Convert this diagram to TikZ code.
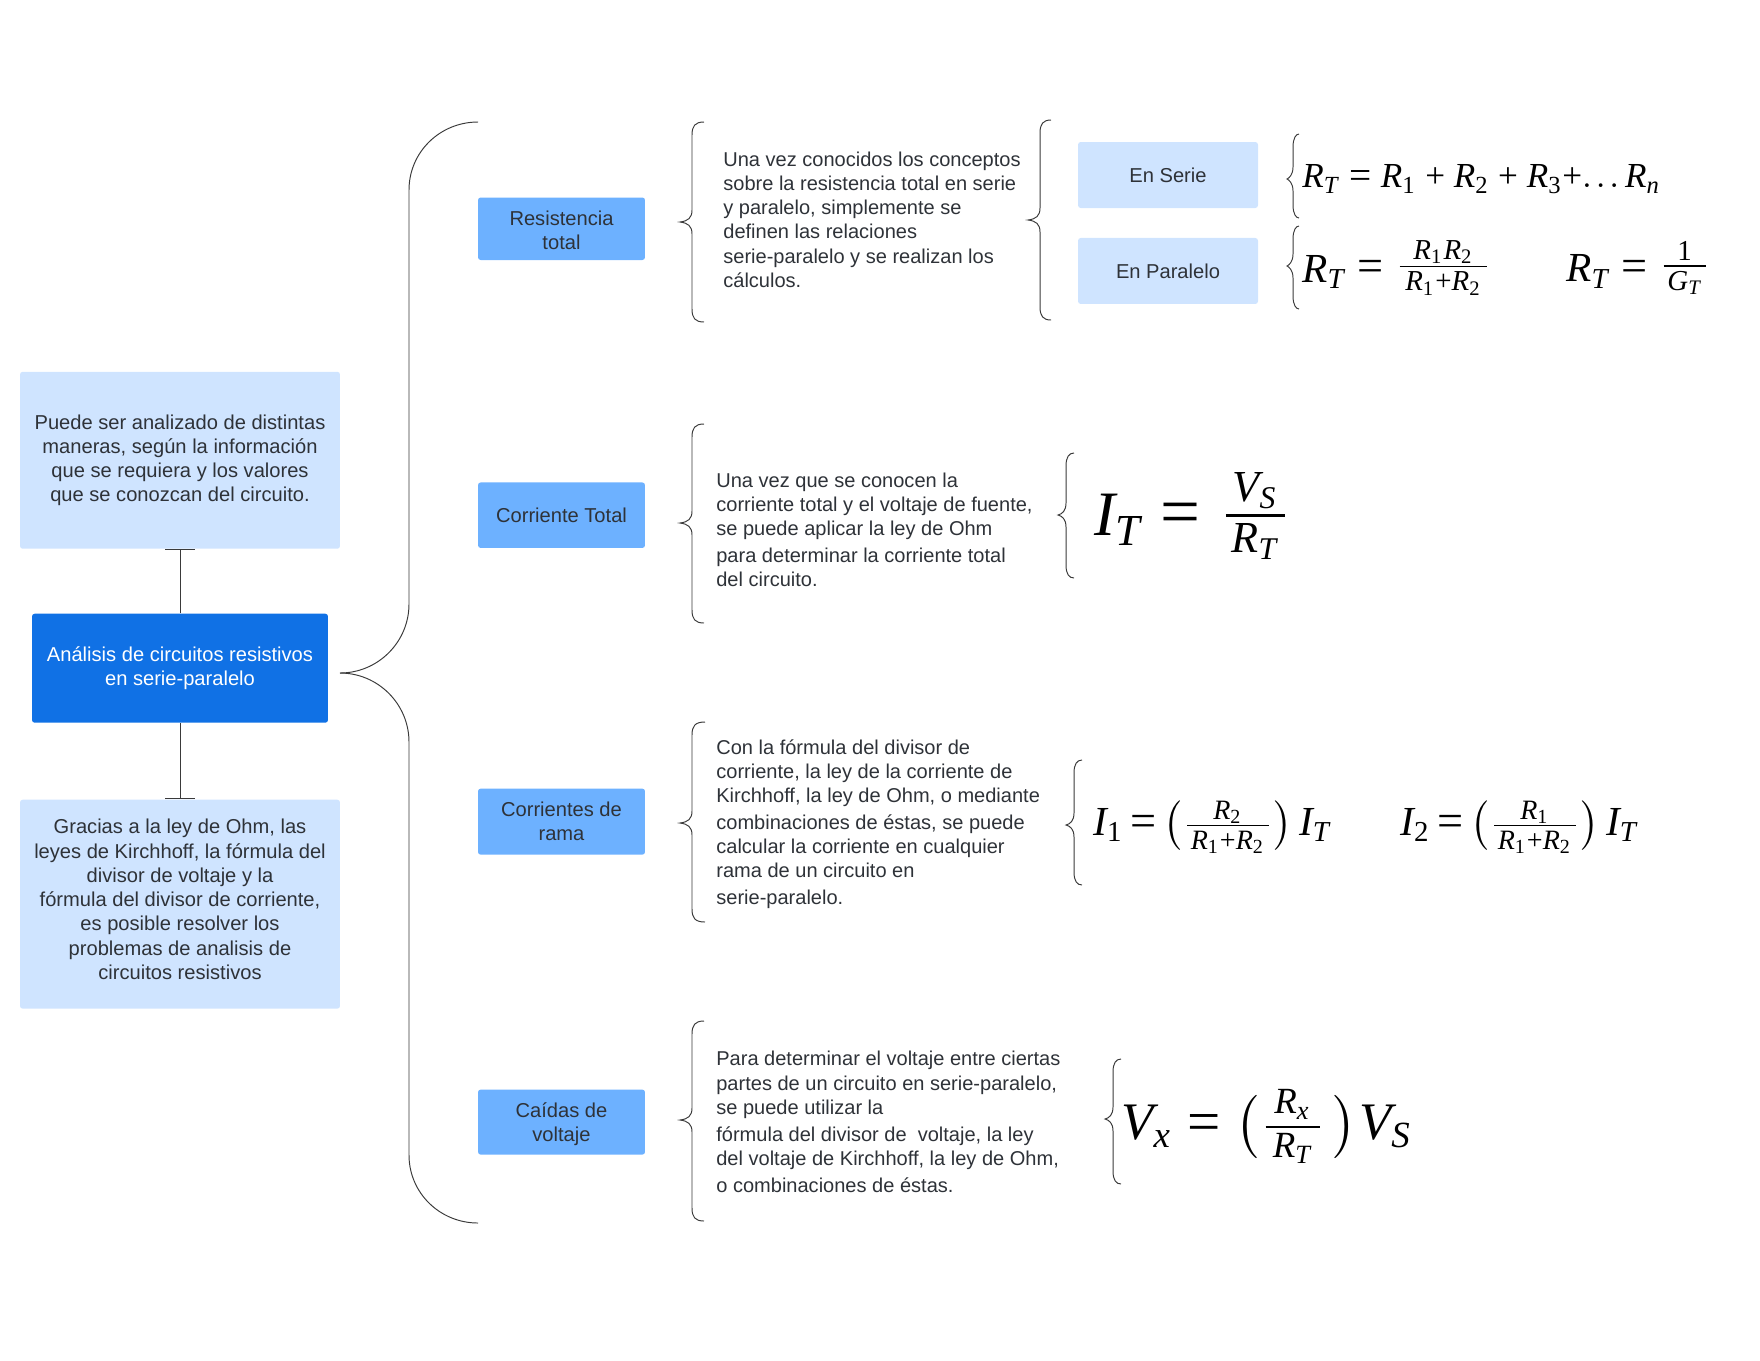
\documentclass[tikz,border=0pt]{standalone}
\usepackage{amsmath,amsfonts,amssymb}
\usepackage{graphicx}
\usepackage{fontspec}
\setmainfont{Liberation Sans}
\setmathrm{Liberation Serif}
\newfontfamily\eqfont{Liberation Serif}
\usepackage{tikz}
\usetikzlibrary{arrows.meta}
\definecolor{rootblue}{HTML}{1071E5}
\definecolor{midblue}{HTML}{6DB1FF}
\definecolor{paleblue}{HTML}{CFE4FF}
\definecolor{inkgrey}{HTML}{2E3238}
\definecolor{linegrey}{HTML}{3A3A3A}
\newcommand{\vr}[2]{\mathit{#1}_{\mathit{#2}}}
\newcommand{\vd}[2]{\mathit{#1}_{\mathrm{#2}}}
\newcommand{\eqsign}[1][0pt]{\mathrel{\raisebox{\dimexpr#1-0.3pt}{\scalebox{1.12}{\eqfont =}}}}
\newcommand{\plussign}{\mathbin{\text{\eqfont +}}}
\newcommand{\plusord}{{\text{\eqfont +}}}
\newcommand{\tightdots}{{\mathrm{.}\mkern2mu\mathrm{.}\mkern2mu\mathrm{.}}}
\tikzstyle{box} = [rounded corners=1.5pt, inner sep=0pt, align=center, text=inkgrey, font=\fontsize{11.45}{13.8}\selectfont]
\tikzstyle{rootbox} = [box, fill=rootblue, text=white, minimum width=5.92cm, minimum height=2.18cm]
\tikzstyle{notebox} = [box, fill=paleblue, minimum width=6.4cm]
\tikzstyle{topicbox} = [box, fill=midblue, minimum width=3.34cm]
\tikzstyle{casebox} = [box, fill=paleblue, minimum width=3.6cm, minimum height=1.32cm]
\tikzstyle{desc} = [anchor=west, inner sep=0pt, align=left, text=inkgrey, font=\fontsize{11.4}{13.8}\selectfont]
\tikzstyle{eq} = [anchor=west, inner sep=0pt]
\tikzstyle{curve} = [draw=linegrey, line width=0.55pt]
\tikzstyle{tbar} = [draw=linegrey, line width=0.55pt, -{Bar[width=17pt]}]

\begin{document}
\begin{tikzpicture}[x=0.02cm,y=-0.02cm]
		\useasboundingbox (0,0) rectangle (1760,1360);

		\node [rootbox] (main) at (180,668.2) {An\'alisis de circuitos resistivos\\en serie-paralelo};
		\node [notebox, minimum height=3.54cm, above of=main, node distance=4.16cm] (upper) {Puede ser analizado de distintas\\maneras, seg\'un la informaci\'on\\que se requiera y los valores\\que se conozcan del circuito.};
		\node [notebox, minimum height=4.18cm, below of=main, node distance=4.72cm] (lower) {Gracias a la ley de Ohm, las\\leyes de Kirchhoff, la f\'ormula del\\divisor de voltaje y la\\f\'ormula del divisor de corriente,\\es posible resolver los\\problemas de analisis de\\circuitos resistivos\rule[-5.5pt]{0pt}{5.5pt}};

		\node [topicbox, minimum height=1.25cm] (restotal) at (561.5,228.75) {\rule{0pt}{10.2pt}Resistencia\\total};
		\node [topicbox, minimum height=1.31cm, below of=restotal, node distance=5.73cm] (cortotal) {Corriente Total};
		\node [topicbox, minimum height=1.32cm, below of=cortotal, node distance=6.13cm] (corrama) {Corrientes de\\rama};
		\node [topicbox, minimum height=1.30cm, below of=corrama, node distance=6.01cm] (caidas) {\rule{0pt}{11pt}Ca\'idas de\\voltaje};

		\node [casebox] (serie) at (1168,175) {En Serie};
		\node [casebox, below of=serie, node distance=1.92cm] (paralelo) {En Paralelo};

		\node [desc] (desc1) at (723,219.5) {Una vez conocidos los conceptos\\sobre la resistencia total en serie\\y paralelo, simplemente se\\definen las relaciones\\serie-paralelo y se realizan los\\c\'alculos.};
		\node [desc] (desc2) at (716,530) {Una vez que se conocen la\\corriente total y el voltaje de fuente,\\se puede aplicar la ley de Ohm\\[1.4pt]para determinar la corriente total\\del circuito.};
		\node [desc] (desc3) at (716,824) {Con la f\'ormula del divisor de\\corriente, la ley de la corriente de\\Kirchhoff, la ley de Ohm, o mediante\\[1.4pt]combinaciones de \'estas, se puede\\calcular la corriente en cualquier\\rama de un circuito en\\[1.4pt]serie-paralelo.};
		\node [desc] (desc4) at (716,1122) {Para determinar el voltaje entre ciertas\\partes de un circuito en serie-paralelo,\\se puede utilizar la\\[1.8pt]f\'ormula del divisor de\ \ voltaje, la ley\\del voltaje de Kirchhoff, la ley de Ohm,\\[1.4pt]o combinaciones de \'estas.};

		\node [eq] (eqserie) at (1302,179) {\scalebox{2}{\medmuskip=4.5mu $\vr{R}{T} \eqsign \vd{R}{1} \plussign \vd{R}{2} \plussign \vd{R}{3}\plusord\tightdots\, \vr{R}{n}$}};
		\node [eq] (eqpar) at (1302,268) {\scalebox{2.35}{$\raisebox{-1.3pt}{$\vr{R}{T}$} \eqsign[-0.8pt] \frac{\vd{R}{1}\vd{R}{2}}{\mkern3mu\vd{R}{1}\plusord\vd{R}{2}\mkern3mu}$}};
		\node [eq] (eqcond) at (1566,268) {\scalebox{2.35}{$\raisebox{-1.3pt}{$\vr{R}{T}$} \eqsign[-0.8pt] \frac{\mathrm{1}}{\mkern2mu\vr{G}{T}\mkern2mu}$}};
		\node [eq] (eqit) at (1094,516) {\scalebox{3.6}{$\raisebox{-0.7pt}{$\vr{I}{T}$} \eqsign[-0.4pt] \frac{\raisebox{0.7pt}{$\scriptstyle\mkern2mu\vr{V}{S}\mkern2mu$}}{\scriptstyle\mkern2mu\vr{R}{T}\mkern2mu}$}};
		\node [eq] (eqione) at (1093,827) {\scalebox{2.35}{\thickmuskip=3mu $\vd{I}{1} \eqsign \bigl(\scalebox{0.97}{$\frac{\mkern1mu\vd{R}{2}\mkern1mu}{\mkern2mu\vd{R}{1}\plusord\vd{R}{2}\mkern2mu}$}\bigr)\, \vr{I}{T}$}};
		\node [eq] (eqitwo) at (1400,827) {\scalebox{2.35}{\thickmuskip=3mu $\vd{I}{2} \eqsign \bigl(\scalebox{0.97}{$\frac{\mkern1mu\vd{R}{1}\mkern1mu}{\mkern2mu\vd{R}{1}\plusord\vd{R}{2}\mkern2mu}$}\bigr)\, \vr{I}{T}$}};
		\node [eq] (eqvx) at (1121,1126.4) {\scalebox{3}{$\vr{V}{x} \eqsign \bigl(\frac{\raisebox{1pt}{$\scriptstyle\mkern3mu\vr{R}{x}\mkern3mu$}}{\scriptstyle\mkern3mu\vr{R}{T}\mkern3mu}\mkern2mu\bigr)\mkern1mu \vr{V}{S}$}};

		\draw [tbar] (main.north) -- (upper.south);
		\draw [tbar] (main.south) -- (lower.north);

		% large brace out of the root box
		\coordinate (fork) at (340,673);
		\draw [curve] (fork) .. controls (378,673) and (409,642) .. (409,604) -- (409,190) .. controls (409,152) and (440,122) .. (478,122);
		\draw [curve] (fork) .. controls (378,673) and (409,704) .. (409,742) -- (409,1155) .. controls (409,1193) and (440,1223) .. (478,1223);

		% small braces: tip, spine, end, top, middle, bottom
		\foreach \xt/\xv/\xe/\yt/\ym/\yb in {680/692/704/122/222/322, 1028/1040/1051/120/220/320, 1287/1293/1299/134/179/218, 1287/1293/1299/226/266/309, 680/692/704/424/523/623, 1058/1066/1074/453/515/578, 680/692/705/722/823/922, 1066/1074/1082/760/825/885, 680/692/704/1021/1120/1221, 1105/1113/1121/1059/1119/1184}
		{
			\draw [curve] (\xe,\yt) .. controls (\xv+3,\yt) and (\xv,\yt+4) .. (\xv,\yt+13) -- (\xv,\ym-12) .. controls (\xv,\ym-4) and (\xv-4,\ym-1) .. (\xt,\ym) .. controls (\xv-4,\ym+1) and (\xv,\ym+4) .. (\xv,\ym+12) -- (\xv,\yb-13) .. controls (\xv,\yb-4) and (\xv+3,\yb) .. (\xe,\yb);
		}
\end{tikzpicture}
\end{document}
